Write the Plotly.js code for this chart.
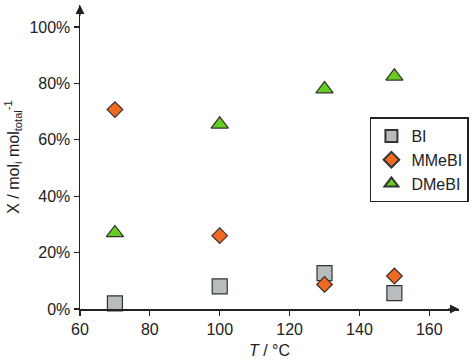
<!DOCTYPE html>
<html><head><meta charset="utf-8">
<script src="https://cdn.plot.ly/plotly-3.0.1.min.js"></script>
<style>html,body{margin:0;padding:0;background:#fff}#c{width:474px;height:361px}</style>
</head><body><div id="c"></div>
<script>
const temps = [70, 100, 130, 150];
const bi = [0.02, 0.08, 0.127, 0.056];
const mmebi = [0.707, 0.26, 0.087, 0.117];
const dmebi = [0.27, 0.655, 0.78, 0.825];
const xTicks = [60, 80, 100, 120, 140, 160];
const yTicks = [0, 0.2, 0.4, 0.6, 0.8, 1.0];
const yTickText = ['0%', '20%', '40%', '60%', '80%', '100%'];

const traces = [
  {x: temps, y: bi, name: 'BI', type: 'scatter', mode: 'markers', cliponaxis: false,
   marker: {symbol: 'square', size: 15, color: '#b7bdbe', line: {color: '#333', width: 1.2}}},
  {x: temps, y: mmebi, name: 'MMeBI', type: 'scatter', mode: 'markers', cliponaxis: false,
   marker: {symbol: 'diamond', size: 12, color: '#f26a21', line: {color: '#333', width: 1.2}}},
  {x: temps, y: dmebi, name: 'DMeBI', type: 'scatter', mode: 'markers', cliponaxis: false,
   marker: {symbol: 'triangle-up', size: 15, color: '#66cc22', line: {color: '#333', width: 1.2}}}
];

const layout = {
  width: 474, height: 361,
  margin: {l: 80, r: 6, t: 5, b: 52},
  paper_bgcolor: '#fff', plot_bgcolor: '#fff',
  font: {family: 'Liberation Sans, Arial, sans-serif', size: 16, color: '#222'},
  showlegend: true,
  legend: {x: 0.765, y: 0.63, yanchor: 'top', xanchor: 'left', itemsizing: 'constant',
           bordercolor: '#222', borderwidth: 1.5, bgcolor: '#fff',
           font: {size: 16, color: '#222'}, tracegroupgap: 0, itemwidth: 30},
  xaxis: {range: [60, 168.5], tickvals: xTicks, ticktext: xTicks.map(String),
          showgrid: false, zeroline: false, showline: true, linecolor: '#222', linewidth: 1.5,
          ticks: 'outside', ticklen: 5, tickcolor: '#222', tickwidth: 1.2,
          title: {text: '<i>T</i> / °C', font: {size: 16}, standoff: 8}},
  yaxis: {range: [0, 1.078], tickvals: yTicks, ticktext: yTickText,
          showgrid: false, zeroline: false, showline: true, linecolor: '#222', linewidth: 1.5,
          ticks: 'outside', ticklen: 5, tickcolor: '#222', tickwidth: 1.2,
          title: {text: 'X / mol<sub>i</sub> mol<sub>total</sub><sup>-1</sup>', font: {size: 16}, standoff: 6}},
  annotations: [
    {xref: 'paper', yref: 'paper', x: 1, y: 0, ax: -12, ay: 0, showarrow: true,
     arrowhead: 2, arrowsize: 1.2, arrowwidth: 1.5, arrowcolor: '#222', text: ''},
    {xref: 'paper', yref: 'paper', x: 0, y: 1, ax: 0, ay: 12, showarrow: true,
     arrowhead: 2, arrowsize: 1.2, arrowwidth: 1.5, arrowcolor: '#222', text: ''}
  ]
};
Plotly.newPlot('c', traces, layout, {displayModeBar: false, staticPlot: true});
</script></body></html>
